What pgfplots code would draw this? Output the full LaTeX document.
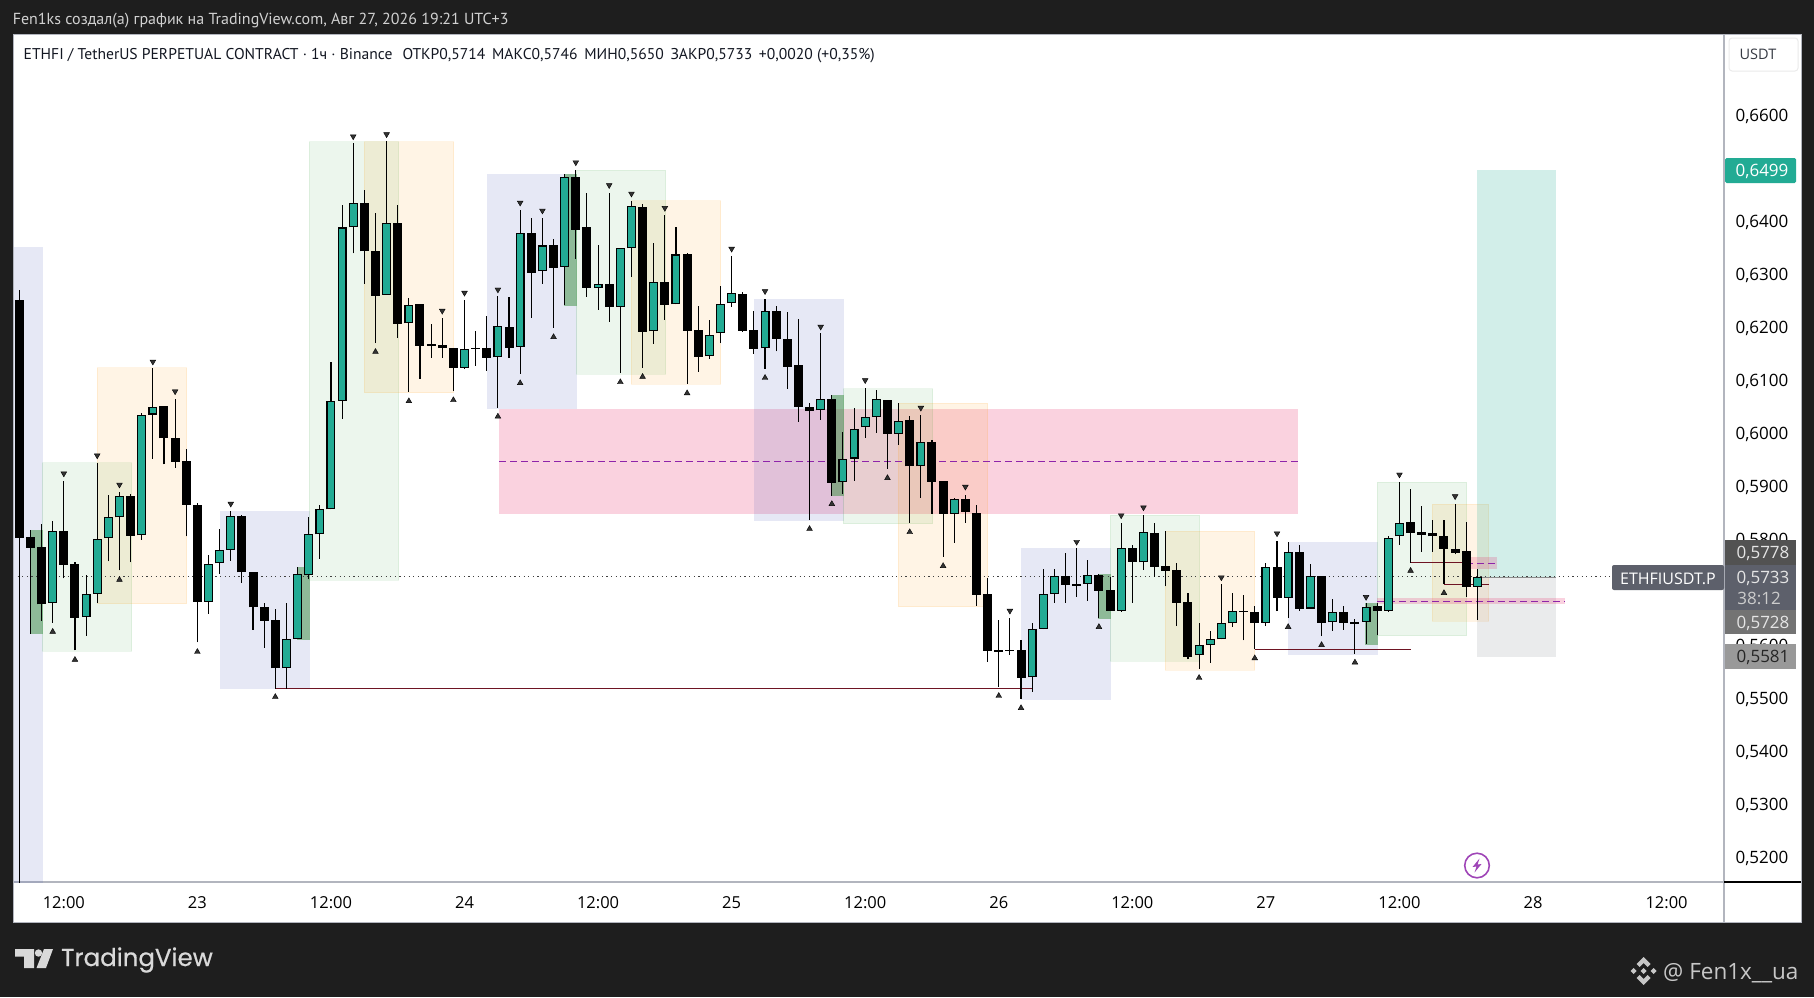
\documentclass[border=0pt]{standalone}
\usepackage{fontspec}
\usepackage{pgfplots}
\usepackage{pgfplotstable}
\pgfplotsset{compat=1.18}
\setmainfont{Open Sans}
\newfontfamily\hdr{PT Sans}
\newfontfamily\logofont[FakeBold=0.6]{Poppins}
\definecolor{pagebg}{HTML}{1E1E1E}
\definecolor{bull}{HTML}{22AB94}
\definecolor{zblue}{RGB}{63,81,181}
\definecolor{zgreen}{RGB}{76,175,80}
\definecolor{zdgreen}{RGB}{56,142,60}
\definecolor{zorange}{RGB}{255,152,0}
\definecolor{zpink}{RGB}{233,30,99}
\definecolor{zteal}{RGB}{34,171,148}
\definecolor{zgray}{RGB}{120,123,134}
\definecolor{dashc}{HTML}{8E24AA}
\definecolor{lvl}{HTML}{6E1423}
\definecolor{framec}{HTML}{B2B5BE}
\definecolor{txt}{HTML}{131722}
\definecolor{lab}{HTML}{5D606B}
\pgfplotstableread{
i o h l c
0 .6249 .6268 .5100 .5801
1 .5802 .5815 .5619 .5782
2 .5783 .5826 .5644 .5675
4 .5813 .5907 .5724 .5750
5 .5751 .5755 .5588 .5650
10 .5879 .5884 .5754 .5804
13 .6049 .6050 .5939 .5988
14 .5988 .6062 .5933 .5944
15 .5945 .5968 .5803 .5863
16 .5863 .5866 .5603 .5680
20 .5842 .5843 .5716 .5735
21 .5735 .5735 .5627 .5669
22 .5669 .5678 .5593 .5644
23 .5645 .5666 .5516 .5554
31 .6433 .6456 .6280 .6341
32 .6341 .6413 .6168 .6257
34 .6395 .6428 .6178 .6204
36 .6241 .6241 .6101 .6163
37 .6166 .6203 .6140 .6163
38 .6165 .6215 .6140 .6159
39 .6159 .6159 .6077 .6121
41 .6159 .6191 .6125 .6157
42 .6158 .6219 .6116 .6140
44 .6199 .6255 .6140 .6159
46 .6375 .6404 .6216 .6301
48 .6353 .6364 .6197 .6310
50 .6481 .6494 .6327 .6382
51 .6386 .6451 .6255 .6272
53 .6280 .6451 .6208 .6236
56 .6424 .6430 .6121 .6189
58 .6284 .6409 .6212 .6240
60 .6335 .6338 .6091 .6191
61 .6192 .6238 .6114 .6142
65 .6260 .6264 .6189 .6191
66 .6192 .6228 .6148 .6157
68 .6228 .6238 .6152 .6176
69 .6175 .6226 .6082 .6123
70 .6126 .6213 .6019 .6048
71 .6048 .6055 .5834 .6040
73 .6062 .6070 .5880 .5904
78 .6060 .6060 .5931 .5997
80 .6022 .6030 .5829 .5935
82 .5982 .5985 .5846 .5906
83 .5907 .5907 .5765 .5846
85 .5873 .5882 .5829 .5850
86 .5848 .5862 .5672 .5693
87 .5694 .5724 .5567 .5587
88 .5589 .5645 .5519 .5585
89 .5588 .5649 .5580 .5587
90 .5589 .5607 .5497 .5536
94 .5728 .5772 .5678 .5712
97 .5730 .5733 .5649 .5701
98 .5702 .5727 .5663 .5663
100 .5782 .5787 .5678 .5755
102 .5809 .5828 .5727 .5746
103 .5747 .5813 .5709 .5738
104 .5740 .5753 .5634 .5678
105 .5679 .5696 .5571 .5576
110 .5663 .5692 .5607 .5661
111 .5660 .5672 .5590 .5640
113 .5745 .5794 .5662 .5687
115 .5773 .5787 .5663 .5667
117 .5728 .5728 .5615 .5640
119 .5661 .5672 .5627 .5640
122 .5671 .5677 .5617 .5663
125 .5830 .5892 .5753 .5810
126 .5811 .5860 .5774 .5806
127 .5809 .5834 .5774 .5803
128 .5803 .5834 .5713 .5780
129 .5780 .5864 .5769 .5772
130 .5775 .5830 .5689 .5708
}\bear
\pgfplotstableread{
i o h l c
3 .5677 .5833 .5640 .5813
6 .5651 .5731 .5616 .5695
7 .5695 .5942 .5678 .5799
8 .5800 .5882 .5756 .5839
9 .5839 .5886 .5739 .5880
11 .5805 .6036 .5797 .6033
12 .6033 .6121 .5950 .6047
17 .5680 .5768 .5657 .5751
18 .5752 .5817 .5733 .5778
19 .5778 .5851 .5757 .5841
24 .5554 .5678 .5516 .5610
25 .5610 .5745 .5610 .5733
26 .5731 .5839 .5722 .5808
27 .5807 .5863 .5761 .5854
28 .5854 .6132 .5854 .6059
29 .6059 .6428 .6025 .6386
30 .6386 .6546 .6337 .6433
33 .6259 .6549 .6259 .6395
35 .6205 .6252 .6076 .6239
40 .6121 .6249 .6119 .6157
43 .6141 .6257 .6046 .6201
45 .6160 .6419 .6110 .6375
47 .6303 .6404 .6280 .6352
49 .6311 .6487 .6240 .6481
52 .6272 .6353 .6231 .6280
54 .6236 .6348 .6111 .6348
55 .6347 .6436 .6293 .6426
57 .6190 .6357 .6167 .6284
59 .6241 .6387 .6241 .6335
62 .6143 .6211 .6138 .6184
63 .6186 .6275 .6168 .6241
64 .6243 .6332 .6236 .6262
67 .6158 .6251 .6119 .6228
72 .6041 .6187 .6023 .6062
74 .5905 .6000 .5883 .5950
75 .5950 .6045 .5908 .6006
76 .6009 .6083 .5989 .6028
77 .6028 .6079 .5999 .6062
79 .5997 .6055 .5976 .6021
81 .5935 .6032 .5876 .5982
84 .5846 .5875 .5791 .5873
91 .5537 .5639 .5510 .5629
92 .5629 .5741 .5628 .5694
93 .5694 .5741 .5678 .5728
95 .5710 .5781 .5689 .5714
96 .5714 .5758 .5682 .5730
99 .5663 .5829 .5661 .5782
101 .5754 .5843 .5740 .5811
106 .5579 .5639 .5553 .5599
107 .5599 .5624 .5565 .5609
108 .5609 .5713 .5609 .5639
109 .5639 .5696 .5633 .5662
112 .5640 .5753 .5634 .5745
114 .5687 .5792 .5649 .5773
116 .5667 .5751 .5667 .5728
118 .5641 .5685 .5625 .5661
120 .5638 .5648 .5581 .5642
121 .5642 .5677 .5600 .5670
123 .5663 .5804 .5661 .5801
124 .5803 .5906 .5787 .5829
131 .5708 .5741 .5645 .5727
}\bullt
\pgfplotstableread{
i p
4 .5920
7 .5954
9 .5899
12 .6131
14 .6075
19 .5863
30 .6556
33 .6560
38 .6227
40 .6261
43 .6267
45 .6431
47 .6416
50 .6507
53 .6464
55 .6448
58 .6421
64 .6344
67 .6264
72 .6197
76 .6096
81 .6044
85 .5895
89 .5661
95 .5791
99 .5841
101 .5856
108 .5724
113 .5807
121 .5687
124 .5918
129 .5877
}\pivhigh
\pgfplotstableread{
i p
3 .5625
5 .5572
9 .5723
16 .5587
23 .5502
32 .6153
35 .6060
39 .6062
43 .6031
45 .6094
48 .6181
54 .6096
56 .6106
60 .6075
67 .6104
71 .5819
73 .5866
78 .5915
80 .5813
83 .5749
88 .5504
90 .5481
97 .5634
106 .5538
111 .5575
114 .5634
117 .5600
120 .5567
125 .5740
128 .5698
}\pivlow
% zone: colour, fill opacity, x0, x1, price low, price high
\newcommand{\zone}[6]{\addplot[forget plot,fill=#1,fill opacity=#2,draw=#1,draw opacity=#2,line width=1pt] coordinates {(#3,#5)(#4,#5)(#4,#6)(#3,#6)} --cycle;}
\newcommand{\flatzone}[6]{\addplot[forget plot,fill=#1,fill opacity=#2,draw=none] coordinates {(#3,#5)(#4,#5)(#4,#6)(#3,#6)} --cycle;}
\begin{document}
\begin{tikzpicture}
\useasboundingbox (0,0) rectangle (1814pt,-997pt);
\fill[pagebg] (0,0) rectangle (1814pt,-997pt);
\fill[white] (13pt,-34pt) rectangle (1801pt,-922pt);
\begin{axis}[
  at={(13pt,-882pt)},anchor=south west,scale only axis,
  width=1711pt,height=848pt,
  xmin=-0.566,xmax=153.16,ymin=0.5151,ymax=0.6751,
  axis x line*=bottom,axis y line*=right,
  axis line style={draw=framec,line width=1.2pt},
  tick style={draw=none},major tick length=0pt,
  xtick={4,16,28,40,52,64,76,88,100,112,124,136,148},
  xticklabels={12:00,23,12:00,24,12:00,25,12:00,26,12:00,27,12:00,28,12:00},
  x tick label style={font=\fontsize{16.5}{18}\selectfont,text=black,yshift=-11pt},
  ytick={.52,.53,.54,.55,.56,.57,.58,.59,.60,.61,.62,.63,.64,.65,.66},
  scaled y ticks=false,
  y tick label style={font=\fontsize{17}{19}\selectfont,text=black,anchor=west,xshift=8pt,yshift=-2.2pt,
    /pgf/number format/.cd,fixed,fixed zerofill,precision=4,use comma,assume math mode=true},
  clip=true,
]
% zones
\flatzone{zblue}{.13}{-0.57}{2.12}{.5100}{.6349}
\flatzone{zdgreen}{.5}{1}{2.12}{.5619}{.5815}
\zone{zgreen}{.1}{2.07}{10.1}{.5586}{.5942}
\zone{zorange}{.1}{7.0}{15.04}{.5676}{.6121}
\flatzone{zblue}{.13}{18.03}{26.12}{.5516}{.5851}
\flatzone{zdgreen}{.5}{24.98}{26.12}{.5608}{.5745}
\zone{zgreen}{.1}{26.03}{34.09}{.5720}{.6548}
\zone{zorange}{.1}{30.97}{39.03}{.6074}{.6548}
\flatzone{zblue}{.13}{42.02}{50.1}{.6043}{.6487}
\flatzone{zdgreen}{.5}{48.97}{50.1}{.6238}{.6487}
\zone{zgreen}{.1}{50.04}{58.08}{.6109}{.6494}
\zone{zorange}{.1}{54.99}{63.02}{.6090}{.6436}
\flatzone{zpink}{.2}{43.1}{114.9}{.5845}{.6043}
\flatzone{zblue}{.13}{66.01}{74.1}{.5833}{.6251}
\flatzone{zdgreen}{.5}{72.97}{74.1}{.5880}{.6070}
\zone{zgreen}{.1}{74.04}{82.07}{.5827}{.6082}
\zone{zorange}{.1}{78.98}{87.0}{.5670}{.6054}
\flatzone{zblue}{.13}{90.0}{98.1}{.5494}{.5781}
\flatzone{zdgreen}{.5}{96.95}{98.1}{.5648}{.5733}
\zone{zgreen}{.1}{98.03}{106.05}{.5568}{.5843}
\zone{zorange}{.1}{102.97}{111.0}{.5551}{.5813}
\flatzone{zblue}{.13}{114}{122.1}{.5579}{.5792}
\flatzone{zdgreen}{.5}{120.94}{122.1}{.5598}{.5677}
\zone{zgreen}{.1}{122.0}{130.04}{.5616}{.5905}
\zone{zorange}{.1}{126.95}{132.02}{.5643}{.5864}
\flatzone{zteal}{.2}{130.97}{138.05}{.5726}{.6494}
\flatzone{zgray}{.15}{130.97}{138.05}{.5576}{.5726}
\flatzone{zpink}{.2}{122}{138.9}{.5675}{.5687}
\flatzone{zpink}{.2}{130}{132.8}{.5741}{.5764}
% midlines, last price, levels
\addplot[forget plot,dashc,line width=1.1pt,dash pattern=on 7pt off 4pt] coordinates {(43.1,.5945)(114.9,.5945)};
\addplot[forget plot,dashc,line width=1.1pt,dash pattern=on 7pt off 4pt] coordinates {(122,.5680)(138.9,.5680)};
\addplot[forget plot,dashc,line width=1.1pt,dash pattern=on 7pt off 4pt] coordinates {(130,.5752)(132.8,.5752)};
\addplot[forget plot,black!75,line width=1pt,dash pattern=on 1.2pt off 3.4pt] coordinates {(-0.566,.5728)(153.16,.5728)};
\addplot[forget plot,black!45,line width=1.2pt] coordinates {(130.97,.5726)(138.05,.5726)};
\addplot[forget plot,lvl,line width=1pt] coordinates {(23,.5516)(91,.5516)};
\addplot[forget plot,lvl,line width=1pt] coordinates {(111,.5590)(125,.5590)};
\addplot[forget plot,lvl,line width=1pt] coordinates {(125,.5754)(130,.5754)};
\addplot[forget plot,lvl,line width=1pt] coordinates {(128,.5713)(132,.5713)};
% wicks
\addplot[forget plot,draw=none,no markers,error bars/.cd,y dir=plus,y explicit,error mark=none,error bar style={draw=black,solid,line width=1.1pt}]
  table[x=i,y=l,y error plus expr=\thisrow{h}-\thisrow{l}] {\bear};
\addplot[forget plot,draw=none,no markers,error bars/.cd,y dir=plus,y explicit,error mark=none,error bar style={draw=black,solid,line width=1.1pt}]
  table[x=i,y=l,y error plus expr=\thisrow{h}-\thisrow{l}] {\bullt};
% bodies
\addplot[forget plot,draw=none,no markers,error bars/.cd,y dir=plus,y explicit,error mark=none,error bar style={draw=black,solid,line width=9pt}]
  table[x=i,y=c,y error plus expr=\thisrow{o}-\thisrow{c}] {\bear};
\addplot[forget plot,draw=none,no markers,error bars/.cd,y dir=plus,y explicit,error mark=none,error bar style={draw=black,solid,line width=9pt}]
  table[x=i,y=o,y error plus expr=\thisrow{c}-\thisrow{o}] {\bullt};
\addplot[forget plot,draw=none,no markers,error bars/.cd,y dir=plus,y explicit,error mark=none,error bar style={draw=bull,solid,line width=6.6pt}]
  table[x=i,y expr=\thisrow{o}+0.0002,y error plus expr=\thisrow{c}-\thisrow{o}-0.0004] {\bullt};
% pivots
\addplot[forget plot,only marks,mark=triangle*,mark size=3.3pt,mark options={fill=black!80,draw=none,yshift=0.9pt,rotate=180}]
  table[x=i,y=p] {\pivhigh};
\addplot[forget plot,only marks,mark=triangle*,mark size=3.3pt,mark options={fill=black!80,draw=none,yshift=-0.9pt}]
  table[x=i,y=p] {\pivlow};
\end{axis}
\begin{scope}[x=1pt,y=-1pt]
% frame
\draw[framec,line width=1.2pt] (1724,882) -- (1724,922);
\draw[framec,line width=1pt] (13,34) rectangle (1801,922);
\draw[black!8,line width=1pt,rounded corners=3pt] (1729,38) rectangle (1798,71);
\node[text=txt!85,font=\fontsize{14.5}{16}\selectfont] at (1758,54.5) {USDT};
\draw[black,line width=1.2pt] (1724,882) -- (1801,882);
% header
\node[anchor=west,text=white!82!black,font=\hdr\fontsize{16}{18}\selectfont,inner sep=0] at (12.6,21) {Fen1ks создал(а) график на TradingView.com, Авг 27, 2026 19:21 UTC+3};
\node[anchor=west,text=txt,font=\hdr\fontsize{15.6}{17}\selectfont,inner sep=0] at (23.5,56) {ETHFI / TetherUS PERPETUAL CONTRACT · 1ч · Binance\hspace{6pt} ОТКР0,5714\hspace{2.5pt} МАКС0,5746\hspace{2.5pt} МИН0,5650\hspace{2.5pt} ЗАКР0,5733\hspace{2.5pt} +0,0020 (+0,35\%)};
% price labels
\tikzset{pl/.style={font=\fontsize{17}{19}\selectfont,inner sep=0}}
\fill[zteal,rounded corners=1.5pt] (1725,158) rectangle (1796,183);
\node[pl,text=white] at (1762,171) {0,6499};
\fill[black!68] (1725,540) rectangle (1796,565);
\node[pl,text=white!90!black] at (1763,553.5) {0,5778};
\fill[lab] (1725,565) rectangle (1796,610);
\node[pl,text=white!90!black] at (1763,578) {0,5733};
\node[pl,text=white!80!black] at (1759,598) {38:12};
\fill[black!55] (1725,610) rectangle (1796,634);
\node[pl,text=white!90!black] at (1763,623.5) {0,5728};
\fill[black!40] (1725,644) rectangle (1796,669);
\node[pl,text=black!85] at (1763,657.5) {0,5581};
\fill[lab,rounded corners=2pt] (1612,565) rectangle (1724,590);
\node[text=white,font=\fontsize{16}{17}\selectfont,inner sep=0] at (1668,578.5) {ETHFIUSDT.P};
% lightning mark
\draw[dashc!85!white,line width=1.6pt] (1477,865.5) circle (12.3);
\fill[dashc!85!white] (1479.5,858.5) -- (1472.5,867) -- (1476.5,866.5) -- (1474.5,872.5) -- (1481.5,864) -- (1477.5,864.5) -- cycle;
% TradingView logo
\fill[white!85!black] (15,949) -- (34,949) -- (34,968) -- (24,968) -- (24,956.5) -- (15,956.5) -- cycle;
\fill[white!85!black] (38.5,953) circle (3.7);
\fill[white!85!black] (44,949) -- (53,949) -- (46,968) -- (36.5,968) -- cycle;
\node[anchor=west,text=white!85!black,font=\logofont\fontsize{24.5}{28}\selectfont,inner sep=0] at (61,960) {TradingView};
% watermark
\begin{scope}[shift={(1643.5,971)}]
\fill[white!78!black] (0,-14) -- (7,-7) -- (4,-4) -- (0,-8) -- (-4,-4) -- (-7,-7) -- cycle;
\fill[white!78!black] (0,14) -- (7,7) -- (4,4) -- (0,8) -- (-4,4) -- (-7,7) -- cycle;
\fill[white!78!black] (-10,-3) -- (-7,0) -- (-10,3) -- (-13,0) -- cycle;
\fill[white!78!black] (10,-3) -- (13,0) -- (10,3) -- (7,0) -- cycle;
\fill[white!78!black] (0,-3) -- (3,0) -- (0,3) -- (-3,0) -- cycle;
\end{scope}
\node[anchor=west,text=white!78!black,font=\fontsize{22.5}{26}\selectfont,inner sep=0] at (1663,973) {@ Fen1x\_\_ua};
\end{scope}
\end{tikzpicture}
\end{document}
